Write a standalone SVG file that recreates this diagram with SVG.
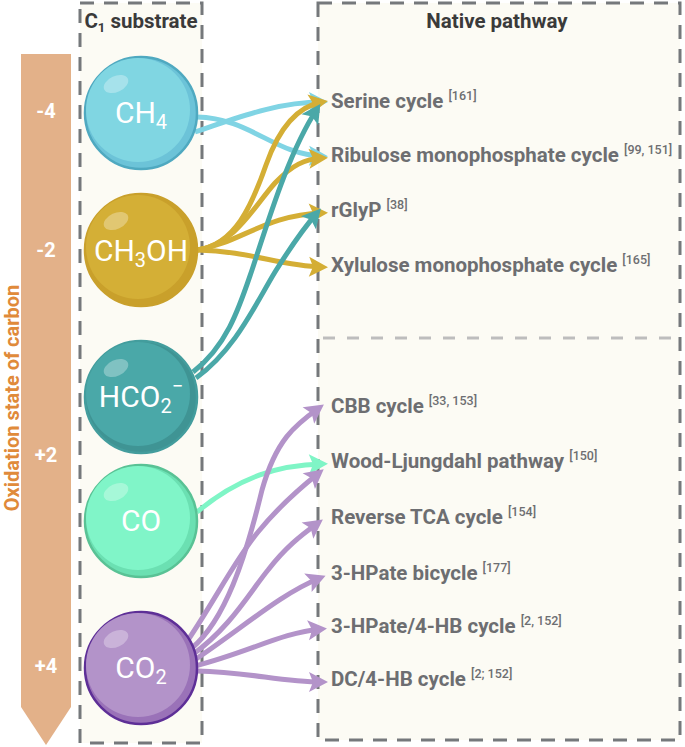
<svg xmlns="http://www.w3.org/2000/svg" width="685" height="747" viewBox="0 0 685 747">
<style>
.box{fill:#fcfbf4;stroke:#75787b;stroke-width:3;stroke-dasharray:14 10}
.sep{fill:none;stroke:#bdbdbd;stroke-width:3;stroke-dasharray:12 12}
.title{font-family:Roboto,"Liberation Sans",sans-serif;font-weight:700;font-size:20.5px;fill:#3a3a3a}
.lab{font-family:Roboto,"Liberation Sans",sans-serif;font-weight:700;font-size:20.5px;fill:#6d6e71}
.sup{font-size:12.5px;font-weight:500}
.num{font-family:Roboto,"Liberation Sans",sans-serif;font-weight:700;font-size:20px;fill:#ffffff;text-anchor:middle}
.axis{font-family:Roboto,"Liberation Sans",sans-serif;font-weight:700;font-size:20px;fill:#e08a3a;text-anchor:middle}
.mol{font-family:Roboto,"Liberation Sans",sans-serif;font-weight:400;font-size:30px;fill:#ffffff;text-anchor:middle}
.sub{font-size:20px}
.hl{fill:#ffffff;opacity:0.3}
.c{fill:none;stroke-width:5}
.cy{stroke:#80d4e4}
.go{stroke:#d4ae35}
.te{stroke:#4aa8a8}
.mi{stroke:#7ff5c6}
.pu{stroke:#b393c9}
</style>
<defs>
<marker id="aCy" markerUnits="userSpaceOnUse" markerWidth="30" markerHeight="30" viewBox="-15 -15 30 30" refX="0" refY="0" orient="auto"><path d="M6,0 L-13,-10 L-9,0 L-13,10 Z" fill="#80d4e4"/></marker>
<marker id="aGo" markerUnits="userSpaceOnUse" markerWidth="30" markerHeight="30" viewBox="-15 -15 30 30" refX="0" refY="0" orient="auto"><path d="M6,0 L-13,-10 L-9,0 L-13,10 Z" fill="#d4ae35"/></marker>
<marker id="aTe" markerUnits="userSpaceOnUse" markerWidth="30" markerHeight="30" viewBox="-15 -15 30 30" refX="0" refY="0" orient="auto"><path d="M6,0 L-13,-10 L-9,0 L-13,10 Z" fill="#4aa8a8"/></marker>
<marker id="aMi" markerUnits="userSpaceOnUse" markerWidth="30" markerHeight="30" viewBox="-15 -15 30 30" refX="0" refY="0" orient="auto"><path d="M6,0 L-13,-10 L-9,0 L-13,10 Z" fill="#7ff5c6"/></marker>
<marker id="aPu" markerUnits="userSpaceOnUse" markerWidth="30" markerHeight="30" viewBox="-15 -15 30 30" refX="0" refY="0" orient="auto"><path d="M6,0 L-13,-10 L-9,0 L-13,10 Z" fill="#b393c9"/></marker>
</defs>

<!-- oxidation axis -->
<g id="axis">
<path d="M21,54 L71,54 L71,707 L46,745 L21,707 Z" fill="#e3b189"/>
<text class="axis" transform="translate(19,398) rotate(-90)">Oxidation state of carbon</text>
<text class="num" x="46" y="118">-4</text>
<text class="num" x="46" y="257">-2</text>
<text class="num" x="46" y="462">+2</text>
<text class="num" x="46" y="673">+4</text>
</g>

<!-- boxes -->
<g id="substrate-box">
<rect class="box" x="80" y="3" width="122" height="740"/>
<text class="title" x="141" y="28" text-anchor="middle">C<tspan font-size="13" dy="4">1</tspan><tspan dy="-4"> substrate</tspan></text>
</g>
<g id="pathway-box">
<rect class="box" x="318" y="3" width="362" height="737"/>
<line class="sep" x1="323" y1="338" x2="677" y2="338"/>
<text class="title" x="497" y="28" text-anchor="middle">Native pathway</text>
</g>

<!-- connectors -->
<g id="connectors">
<path class="c cy" marker-end="url(#aCy)" d="M197,117 C250,118 275,155 322,156"/>
<path class="c cy" marker-end="url(#aCy)" d="M195,132 C245,115 280,102 322,102"/>
<path class="c go" marker-end="url(#aGo)" d="M197,250 C235,245 252,205 266,165 C280,125 300,106 322,102"/>
<path class="c go" marker-end="url(#aGo)" d="M197,250 C235,245 255,205 275,183 C292,165 305,159 322,158"/>
<path class="c go" marker-end="url(#aGo)" d="M197,250 C240,243 265,215 322,213"/>
<path class="c go" marker-end="url(#aGo)" d="M197,250 C250,251 280,266 322,267"/>
<path class="c te" marker-end="url(#aTe)" d="M193,372 C228,345 240,305 252,270 C270,215 290,150 317,109"/>
<path class="c te" marker-end="url(#aTe)" d="M196,378 C235,350 255,305 275,272 C290,248 302,230 317,213"/>
<path class="c mi" marker-end="url(#aMi)" d="M197,512 C240,476 280,465 322,464"/>
<path class="c pu" marker-end="url(#aPu)" d="M192,648 C225,620 245,560 262,490 C276,440 295,425 319,408"/>
<path class="c pu" marker-end="url(#aPu)" d="M188,640 C215,600 235,560 258,532 C280,505 300,488 319,473"/>
<path class="c pu" marker-end="url(#aPu)" d="M192,655 C230,628 250,592 268,570 C285,548 300,536 318,523"/>
<path class="c pu" marker-end="url(#aPu)" d="M193,661 C240,630 280,594 320,578"/>
<path class="c pu" marker-end="url(#aPu)" d="M195,666 C250,652 280,633 321,629"/>
<path class="c pu" marker-end="url(#aPu)" d="M197,671 C250,672 280,682 322,682"/>
</g>

<!-- substrate nodes -->
<g id="ch4">
<circle cx="141" cy="113" r="56" fill="#6cc3d8" stroke="#4fa9c0" stroke-width="2.5"/>
<circle cx="138" cy="110" r="52" fill="#80d6e2"/>
<ellipse class="hl" cx="116" cy="84" rx="13" ry="8" transform="rotate(-25 116 84)"/>
<text class="mol" x="141" y="123">CH<tspan class="sub" dy="6">4</tspan></text>
</g>
<g id="ch3oh">
<circle cx="141" cy="250" r="56" fill="#c9a02b" stroke="#c9a02b" stroke-width="2.5"/>
<circle cx="138" cy="247" r="52" fill="#d4af36"/>
<ellipse class="hl" cx="116" cy="221" rx="13" ry="8" transform="rotate(-25 116 221)"/>
<text class="mol" x="141" y="261">CH<tspan class="sub" dy="6">3</tspan><tspan dy="-6">OH</tspan></text>
</g>
<g id="hco2">
<circle cx="141" cy="397" r="56" fill="#3f9494" stroke="#439d9d" stroke-width="2.5"/>
<circle cx="138" cy="394" r="52" fill="#4aa8a8"/>
<ellipse class="hl" cx="116" cy="368" rx="13" ry="8" transform="rotate(-25 116 368)"/>
<text class="mol" x="141" y="407">HCO<tspan class="sub" dy="6">2</tspan><tspan class="sub" dy="-20">−</tspan></text>
</g>
<g id="co">
<circle cx="141" cy="521" r="56" fill="#6be0b2" stroke="#59c295" stroke-width="2.5"/>
<circle cx="138" cy="518" r="52" fill="#80f5c8"/>
<ellipse class="hl" cx="116" cy="492" rx="13" ry="8" transform="rotate(-25 116 492)"/>
<text class="mol" x="141" y="531">CO</text>
</g>
<g id="co2">
<circle cx="141" cy="668" r="56" fill="#9a72b8" stroke="#5e2f97" stroke-width="2.5"/>
<circle cx="138" cy="665" r="52" fill="#b393c9"/>
<ellipse class="hl" cx="116" cy="639" rx="13" ry="8" transform="rotate(-25 116 639)"/>
<text class="mol" x="141" y="678">CO<tspan class="sub" dy="6">2</tspan></text>
</g>

<!-- pathway labels -->
<g id="serine"><text class="lab" x="331" y="108">Serine cycle <tspan class="sup" dy="-8">[161]</tspan></text></g>
<g id="rump"><text class="lab" x="331" y="162">Ribulose monophosphate cycle <tspan class="sup" dy="-8">[99, 151]</tspan></text></g>
<g id="rglyp"><text class="lab" x="331" y="217">rGlyP <tspan class="sup" dy="-8">[38]</tspan></text></g>
<g id="xump"><text class="lab" x="331" y="272">Xylulose monophosphate cycle <tspan class="sup" dy="-8">[165]</tspan></text></g>
<g id="cbb"><text class="lab" x="331" y="413">CBB cycle <tspan class="sup" dy="-8">[33, 153]</tspan></text></g>
<g id="wl"><text class="lab" x="331" y="468">Wood-Ljungdahl pathway <tspan class="sup" dy="-8">[150]</tspan></text></g>
<g id="rtca"><text class="lab" x="331" y="524">Reverse TCA cycle <tspan class="sup" dy="-8">[154]</tspan></text></g>
<g id="hpbi"><text class="lab" x="331" y="580">3-HPate bicycle <tspan class="sup" dy="-8">[177]</tspan></text></g>
<g id="hphb"><text class="lab" x="331" y="633">3-HPate/4-HB cycle <tspan class="sup" dy="-8">[2, 152]</tspan></text></g>
<g id="dchb"><text class="lab" x="331" y="686">DC/4-HB cycle <tspan class="sup" dy="-8">[2; 152]</tspan></text></g>
</svg>
